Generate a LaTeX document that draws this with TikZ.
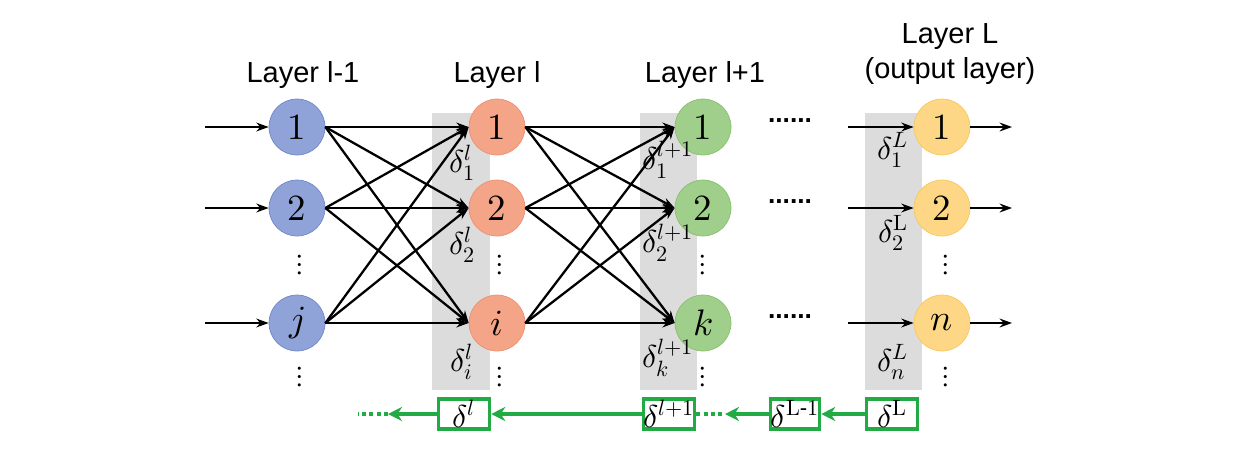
\documentclass[tikz,border=0pt]{standalone}
\usepackage{fontspec}
\setmainfont{Liberation Sans}
\usepackage{unicode-math}
\setmathfont{Latin Modern Math}
\usetikzlibrary{arrows.meta}
\definecolor{nb}{HTML}{8FA3D8}\definecolor{nbd}{HTML}{7088C8}
\definecolor{no}{HTML}{F4A487}\definecolor{nod}{HTML}{EE9070}
\definecolor{ng}{HTML}{9FCF8A}\definecolor{ngd}{HTML}{88C070}
\definecolor{ny}{HTML}{FDD785}\definecolor{nyd}{HTML}{F8C860}
\definecolor{gbar}{HTML}{DCDCDC}\definecolor{gr}{HTML}{22AA44}
\begin{document}
\begin{tikzpicture}[x={(0.02cm,0)},y={(0,-0.02cm)},
 neu/.style={circle,minimum size=1.12cm,inner sep=0pt,font=\fontsize{21}{21}\selectfont},
 ttl/.style={font=\fontsize{16.5}{20}\selectfont,align=center},
 dl/.style={font=\fontsize{18}{18}\selectfont,inner sep=0pt},
 ar/.style={-{Stealth[length=7pt,width=5pt]},line width=1.3pt},
 gb/.style={draw=gr,line width=2pt,minimum width=1.02cm,minimum height=0.6cm,inner sep=0pt,font=\fontsize{18}{18}\selectfont},
 ga/.style={draw=gr,line width=2.2pt,-{Stealth[length=8pt,width=8pt]}},
 gd/.style={draw=gr,line width=2.2pt,dotted},
 vd/.style={font=\fontsize{17}{17}\selectfont}]
\useasboundingbox (0,0) rectangle (1250,464);
\fill[gbar] (432,113) rectangle (490,390);
\fill[gbar] (640,113) rectangle (697,390);
\fill[gbar] (865,113) rectangle (922,390);
\node[ttl] (t1) at (303,75) {Layer l-1};
\node[ttl] (t2) at (497,75) {Layer l};
\node[ttl] (t3) at (705,75) {Layer l+1};
\node[ttl] (t4) at (950,54) {Layer L\\(output layer)};
\foreach \n/\y/\t in {1/127/$1$,2/208/$2$,3/323/$j$}{\node[neu,fill=nb,draw=nbd] (a\n) at (297,\y) {\t};}
\foreach \n/\y/\t in {1/127/$1$,2/208/$2$,3/323/$i$}{\node[neu,fill=no,draw=nod] (b\n) at (497,\y) {\t};}
\foreach \n/\y/\t in {1/127/$1$,2/208/$2$,3/323/$k$}{\node[neu,fill=ng,draw=ngd] (c\n) at (703,\y) {\t};}
\foreach \n/\y/\t in {1/127/$1$,2/208/$2$,3/323/$n$}{\node[neu,fill=ny,draw=nyd] (d\n) at (942,\y) {\t};}
\foreach \n/\y in {1/127,2/208,3/323}{
 \coordinate (in\n) at (205,\y); \draw[ar] (in\n) -- (a\n);
 \coordinate (li\n) at (848,\y); \draw[ar] (li\n) -- (d\n);
 \coordinate (o\n) at (1012,\y); \draw[ar] (d\n) -- (o\n);
 \node[font=\bfseries\fontsize{15}{15}\selectfont] (dd\n) at (790,\y-6) {......};
 \foreach \m in {1,2,3}{
  \draw[ar] (a\n.east) -- (b\m.west);
  \draw[ar] (b\n.east) -- (c\m.west);}}
\foreach \x in {300,500,703,946}{\node[vd] at (\x,265) {$\vdots$};\node[vd] at (\x,377) {$\vdots$};}
\node[dl] at (462,163) {$\delta_1^{l}$};
\node[dl] at (462,245) {$\delta_2^{l}$};
\node[dl] at (462,362) {$\delta_i^{l}$};
\node[dl] at (668,160) {$\delta_1^{l+1}$};
\node[dl] at (668,243) {$\delta_2^{l+1}$};
\node[dl] at (668,358) {$\delta_k^{l+1}$};
\node[dl] at (893,150) {$\delta_1^{L}$};
\node[dl] at (893,233) {$\delta_2^{\symup{L}}$};
\node[dl] at (893,362) {$\delta_n^{L}$};
\node[gb] (e1) at (464,414) {$\delta^{l}$};
\node[gb] (e2) at (669,414) {$\delta^{l+1}$};
\node[gb,minimum width=0.98cm] (e3) at (795,414) {$\delta^{\symup{L}\text{-}\symup{1}}$};
\node[gb] (e4) at (892,414) {$\delta^{\symup{L}}$};
\coordinate (p1) at (358,414); \coordinate (p2) at (388,414);
\coordinate (q1) at (725,414); \coordinate (q2) at (738,414);
\draw[ga] (e4) -- (e3);
\draw[gd] (e2.east) -- (q1);
\draw[ga] (e3.west) -- (q1);
\draw[ga] (e2) -- (e1);
\draw[ga] (e1.west) -- (p2);
\draw[gd] (p2) -- (p1);
\end{tikzpicture}
\end{document}
